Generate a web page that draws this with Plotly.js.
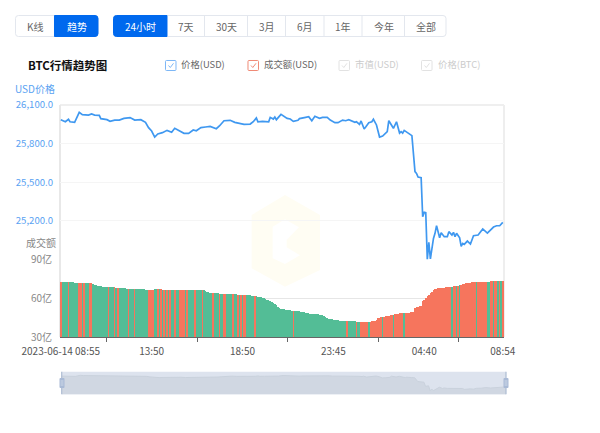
<!DOCTYPE html>
<html><head><meta charset="utf-8">
<script src="https://cdn.plot.ly/plotly-3.0.1.min.js"></script>
<style>html,body{margin:0;padding:0;background:#fff}</style></head>
<body><div id="chart" style="width:600px;height:433px"></div>
<script>
// ---- data ----
const priceIndex = [0,3,5,6,9,10,12,14,18,20,22,25,26,30,32,35,38,41,45,48,52,55,57,59,61,63,66,69,72,74,77,80,83,86,88,91,94,97,101,103,106,110,113,116,119,123,125,127,128,131,135,136,138,139,140,143,147,149,151,154,155,159,161,163,165,168,170,173,175,178,180,183,185,187,190,191,192,194,195,197,198,200,202,203,205,207,209,212,213,216,218,220,221,222,223,226,228,230,231,232,234,235,236,237,238,239,240,242,243,244,246,247,249,251,252,253,254,255,256,257,259,260,261,262,264,266,268,271,274,277,281,283,285,287];
const priceUSD = [25986,25970,25989,25970,25965,25996,26043,26025,26022,26030,26022,26020,25994,25986,25973,25983,25983,25996,26002,25983,25986,25965,25924,25898,25851,25875,25885,25903,25888,25919,25898,25880,25880,25906,25900,25924,25929,25934,25916,25937,25978,25981,25965,25960,25950,25952,25970,25999,25970,25973,25970,26004,25991,26007,25986,26027,25996,25991,25973,25981,25994,26004,26009,25978,26012,25996,26004,26004,25983,25963,25963,25983,25978,25986,25970,25965,25970,25950,25976,25914,25929,25963,25970,25989,25945,25851,25859,25893,25978,25919,25970,25882,25893,25882,25903,25877,25862,25582,25569,25541,25535,25232,25266,25263,24900,25033,24905,25064,25103,25162,25069,25108,25077,25077,25116,25103,25090,25111,25077,25103,25069,25002,25025,25017,25043,25020,25085,25090,25137,25105,25152,25162,25162,25188];
const volumeYi = [
72.6,72.6,72.5,72.5,72.4,72.3,72.3,72.2,72.2,72.1,71.9,71.8,71.8,71.7,71.7,71.6,71.6,71.6,71.5,71.5,71.5,71.0,70.2,70.0,
69.7,69.4,69.2,69.1,69.0,68.9,68.8,68.7,68.7,68.6,68.5,68.4,68.3,68.2,68.1,68.0,67.8,67.7,67.6,67.5,67.4,67.3,67.2,67.2,
67.1,67.0,67.0,66.9,66.9,66.8,66.8,66.7,66.7,66.6,66.6,66.6,66.7,66.8,66.9,66.9,66.8,66.8,66.7,66.7,66.6,66.6,66.6,66.6,
66.6,66.6,66.6,66.6,66.6,66.6,66.6,66.6,66.6,66.5,66.5,66.5,66.4,66.4,66.4,66.3,66.3,66.3,66.2,66.2,66.1,66.1,65.3,64.8,
64.6,64.4,64.2,63.8,63.8,63.7,63.7,63.6,63.6,63.5,63.4,63.3,63.3,63.2,63.2,63.1,63.1,63.0,63.0,62.9,62.8,62.7,62.6,62.5,
62.5,62.4,62.3,62.2,62.1,62.0,61.8,61.6,61.3,61.0,60.7,60.5,60.0,59.5,59.0,58.4,57.8,57.0,56.2,55.3,54.5,53.6,52.8,51.9,
51.7,51.4,51.2,51.0,50.8,50.6,50.4,50.4,50.3,50.2,50.0,49.9,49.7,49.4,49.0,48.6,48.3,48.2,48.1,48.0,47.9,47.8,47.7,47.6,
47.4,47.3,47.0,46.5,45.8,45.0,44.2,44.0,43.8,43.5,43.2,43.0,42.9,42.7,42.6,42.4,42.3,42.1,42.1,42.1,42.1,42.1,42.1,42.1,
41.6,41.3,41.3,41.4,41.5,41.6,41.7,41.8,41.9,42.0,42.1,42.3,42.4,43.5,44.7,45.0,45.3,45.5,45.8,46.0,46.3,46.6,47.0,47.3,
47.4,47.6,47.8,48.0,48.2,48.3,48.5,48.6,48.7,48.8,48.9,49.0,49.2,49.3,52.4,52.9,53.4,53.8,54.2,57.6,59.0,60.3,61.5,62.8,
64.0,65.2,66.2,67.1,67.4,67.6,67.8,68.0,68.2,68.3,68.4,68.5,68.7,68.9,69.0,69.2,69.4,69.5,69.7,70.0,70.6,71.0,71.4,71.8,
71.9,72.0,72.1,72.2,72.4,72.5,72.6,72.6,72.7,72.7,72.8,72.8,72.9,72.9,72.9,73.0,73.0,73.1,73.1,73.1,73.2,73.2,73.3,73.3];
const redBarsEarly = [0,5,12,13,15,19,20,31,35,37,44,48,57,58,59,60,63,65,67,69,71,74,77,78,79,80,82,87,92,99,103,106,107,112,115,117,119,120,126,151,186,192];
const greenBarsLate = [200,209,216,223,254,257,259,270,277,278,281,284,286];
const xLabelIndex = [0,59,118,177,236,287];
const xLabels = ['2023-06-14 08:55','13:50','18:50','23:45','04:40','08:54'];
const xTickMarks = [30,88.5,147.5,206.5,258];
const priceTicks = [25200,25500,25800,26100];
const volumeTicks = [30,60,90];
const volumeTickLabels = ['30亿','60亿','90亿'];
const rangeButtons = ['24小时','7天','30天','3月','6月','1年','今年','全部'];
const viewButtons = ['K线','趋势'];
const legendItems = ['价格(USD)','成交额(USD)','市值(USD)','价格(BTC)'];

// ---- page-pixel helpers ----
const W=600,H=433,FONT='"Noto Sans CJK SC","Noto Sans",sans-serif';
const px=x=>x/W, py=y=>1-y/H;
const P=(x,y)=>px(x).toFixed(5)+','+py(y).toFixed(5);
const poly=pts=>'M'+pts.map(p=>P(p[0],p[1])).join('L')+'Z';
function rr(x0,y0,x1,y1,rl,rr_){ // rounded rect, separate left/right radius
  return 'M'+P(x0+rl,y0)+'L'+P(x1-rr_,y0)+'Q'+P(x1,y0)+' '+P(x1,y0+rr_)+'L'+P(x1,y1-rr_)+'Q'+P(x1,y1)+' '+P(x1-rr_,y1)+
         'L'+P(x0+rl,y1)+'Q'+P(x0,y1)+' '+P(x0,y1-rl)+'L'+P(x0,y0+rl)+'Q'+P(x0,y0)+' '+P(x0+rl,y0)+'Z';
}
const shapes=[],annotations=[];
const pathS=(path,fill,line,w,layer)=>shapes.push({type:'path',xref:'paper',yref:'paper',path,fillcolor:fill||'rgba(0,0,0,0)',line:{color:line||'rgba(0,0,0,0)',width:w===undefined?1:w},layer:layer||'below'});
const lineS=(x0,y0,x1,y1,c,w,layer)=>shapes.push({type:'line',xref:'paper',yref:'paper',x0:px(x0),y0:py(y0),x1:px(x1),y1:py(y1),line:{color:c,width:w||1},layer:layer||'below'});
const text=(t,x,y,o)=>annotations.push(Object.assign({text:t,xref:'paper',yref:'paper',x:px(x),y:py(y),xanchor:'center',yanchor:'middle',showarrow:false,borderpad:0,font:{family:FONT,size:10,color:'#666'}},o||{}));

// button groups
const BC='#e3e7ee',BLUE='#0069ee';
pathS(rr(15.5,15.5,98,36.5,3,3),'#fff',BC);
pathS(rr(54.5,15.5,98,36.5,0,3),BLUE,BLUE);
text(viewButtons[0],35.4,26);
text(viewButtons[1],76.5,26,{font:{family:FONT,size:10,color:'#fff'}});
pathS(rr(113.5,15.5,446,36.5,3,3),'#fff',BC);
pathS(rr(113.5,15.5,167,36.5,3,0),BLUE,BLUE);
[204.5,247.5,285.5,324,362,404.5].forEach(x=>lineS(x,15.5,x,36.5,BC,1));
[140,185.8,226,266.5,305,343,383.5,426].forEach((x,i)=>text(rangeButtons[i],x,26,i===0?{font:{family:FONT,size:10,color:'#fff'}}:{}));

// title and legend
text('<b>BTC行情趋势图</b>',26.5,64.5,{xanchor:'left',font:{family:FONT,size:11.5,color:'#111'}});
[[165.5,180,'#7db7f6','#666'],[248,262.5,'#f08a76','#666'],[339,354,'#e2e2e2','#ccc'],[421.5,436.5,'#e2e2e2','#ccc']].forEach((l,i)=>{
  pathS(rr(l[0],60.5,l[0]+10.5,70.5,1,1),'#fff',l[2],1);
  pathS('M'+P(l[0]+3,65.5)+'L'+P(l[0]+4.8,67.5)+'L'+P(l[0]+8,63.3),null,l[2],1);
  text(legendItems[i],l[1],64,{xanchor:'left',font:{family:FONT,size:9.4,color:l[3]}});
});

// axis captions
text('USD价格',13.5,88,{xanchor:'left',font:{family:FONT,size:10,color:'#5aa2f2'}});
text('成交额',24.5,242,{xanchor:'left',font:{family:FONT,size:10,color:'#888'}});

// watermark
const wm=(X,Y)=>[230+X/3,190+Y/3];
pathS(poly([[165,15],[270,75],[270,240],[165,290],[65,235],[65,75]].map(p=>wm(p[0],p[1]))),'#fffdf3');
pathS(poly([[128,110],[165,88],[207,112],[170,150],[170,172],[210,196],[165,222],[128,205]].map(p=>wm(p[0],p[1]))),'#ffffff');

// plot frame
lineS(60,105,504,105,'#efefef',2);
lineS(60,105,60,337,'#e8e8e8',2);
lineS(504,105,504,337,'#eeeeee',2);

// slider background and handles
pathS(poly([[61.7,371.7],[506,371.7],[506,394.3],[61.7,394.3]]),'#dde3ee');
lineS(61.7,371.7,61.7,394.3,'#aebdd3',1.2,'above');
lineS(506,371.7,506,394.3,'#aebdd3',1.2,'above');
pathS(rr(59.5,378,64.5,388,1,1),'#a9bad6',null,0,'above');
pathS(rr(503.5,378,508.5,388,1,1),'#a9bad6',null,0,'above');
[381,383,385].forEach(y=>{lineS(60.5,y,63.5,y,'#dfe6f0',0.7,'above');lineS(504.5,y,507.5,y,'#dfe6f0',0.7,'above');});

// bars
const barIndex=volumeYi.map((_,i)=>i);
const RED='#f6755d',GREEN='#53bd96';
const barColors=barIndex.map(i=>i<195?(redBarsEarly.includes(i)?RED:GREEN):(greenBarsLate.includes(i)?GREEN:RED));

const traces=[
 {type:'scatter',mode:'lines',x:priceIndex,y:priceUSD,xaxis:'x',yaxis:'y',line:{color:'#3f98f0',width:1.7},hoverinfo:'skip'},
 {type:'bar',x:barIndex,y:volumeYi,base:0,xaxis:'x2',yaxis:'y2',marker:{color:barColors,line:{width:0}},hoverinfo:'skip'},
 {type:'scatter',mode:'lines',x:priceIndex,y:priceUSD,xaxis:'x3',yaxis:'y3',line:{color:'#c9d1dc',width:1},fill:'tozeroy',fillcolor:'#d0d7e2',hoverinfo:'skip'}
];
const xd=[px(60),px(504)],xr=[-0.5,287.8];
const layout={
 width:W,height:H,margin:{l:0,r:0,t:0,b:0},paper_bgcolor:'#fff',plot_bgcolor:'rgba(0,0,0,0)',showlegend:false,bargap:0,
 font:{family:FONT,size:10},
 xaxis:{domain:xd,range:xr,anchor:'y',visible:false,fixedrange:true},
 yaxis:{domain:[py(259.5),py(105)],range:[24900,26100],anchor:'x',tickvals:priceTicks,tickformat:',.1f',ticks:'outside',ticklen:4,tickcolor:'rgba(0,0,0,0)',
   tickfont:{family:FONT,size:9.6,color:'#5aa2f2'},gridcolor:'#f5f5f5',zeroline:false,showline:false,fixedrange:true},
 xaxis2:{domain:xd,range:xr,anchor:'y2',tickmode:'array',tickvals:xLabelIndex,ticktext:xLabels,tickangle:0,ticks:'outside',ticklen:5,tickcolor:'rgba(0,0,0,0)',
   tickfont:{family:FONT,size:10,color:'#555'},showline:true,linecolor:'#666',linewidth:1,showgrid:false,zeroline:false,fixedrange:true,
   minor:{tickmode:'array',tickvals:xTickMarks,ticks:'outside',ticklen:4,tickcolor:'#666',tickwidth:1,showgrid:false}},
 yaxis2:{domain:[py(337),py(259.5)],range:[30,90],anchor:'x2',tickvals:volumeTicks,ticktext:volumeTickLabels,ticks:'outside',ticklen:5,tickcolor:'rgba(0,0,0,0)',
   tickfont:{family:FONT,size:10,color:'#888'},gridcolor:'#e6e6e6',zeroline:false,showline:false,fixedrange:true},
 xaxis3:{domain:[px(61.7),px(506)],range:[0,287],anchor:'y3',visible:false,fixedrange:true},
 yaxis3:{domain:[py(394.3),py(371.7)],range:[24640,26310],anchor:'x3',visible:false,fixedrange:true},
 shapes,annotations
};
Plotly.newPlot('chart',traces,layout,{displayModeBar:false,staticPlot:true});
</script></body></html>
